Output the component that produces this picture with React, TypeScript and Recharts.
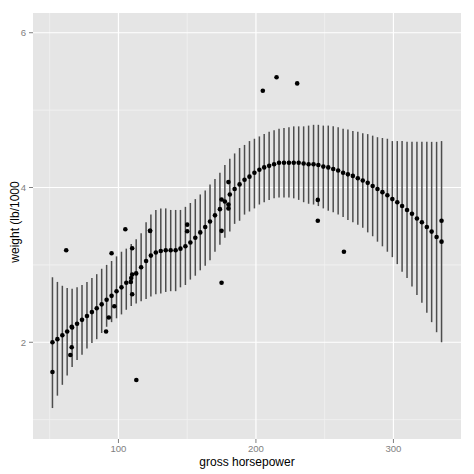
import {
  ScatterChart,
  Scatter,
  XAxis,
  YAxis,
  CartesianGrid,
  ReferenceLine,
  ErrorBar,
} from "recharts";

// mtcars: gross horsepower vs weight
const carHp = [
  110, 110, 93, 110, 175, 105, 245, 62, 95, 123, 123, 180, 180, 180, 205, 215,
  230, 66, 52, 65, 97, 150, 150, 245, 175, 66, 91, 113, 264, 175, 335, 109,
];
const carWt = [
  2.62, 2.875, 2.32, 3.215, 3.44, 3.46, 3.57, 3.19, 3.15, 3.44, 3.44, 4.07,
  3.73, 3.78, 5.25, 5.424, 5.345, 2.2, 1.615, 1.835, 2.465, 3.52, 3.435, 3.84,
  3.845, 1.935, 2.14, 1.513, 3.17, 2.77, 3.57, 2.78,
];

// smoother grid
const smoothHp = [
  52.0, 55.6, 59.2, 62.7, 66.3, 69.9, 73.5, 77.1, 80.7, 84.2, 87.8, 91.4, 95.0,
  98.6, 102.2, 105.7, 109.3, 112.9, 116.5, 120.1, 123.6, 127.2, 130.8, 134.4,
  138.0, 141.6, 145.1, 148.7, 152.3, 155.9, 159.5, 163.1, 166.6, 170.2, 173.8,
  177.4, 181.0, 184.5, 188.1, 191.7, 195.3, 198.9, 202.5, 206.0, 209.6, 213.2,
  216.8, 220.4, 224.0, 227.5, 231.1, 234.7, 238.3, 241.9, 245.4, 249.0, 252.6,
  256.2, 259.8, 263.4, 266.9, 270.5, 274.1, 277.7, 281.3, 284.9, 288.4, 292.0,
  295.6, 299.2, 302.8, 306.3, 309.9, 313.5, 317.1, 320.7, 324.3, 327.8, 331.4,
  335.0,
];
const smoothFit = [
  2.0, 2.04, 2.09, 2.14, 2.19, 2.24, 2.29, 2.34, 2.39, 2.44, 2.49, 2.55, 2.6,
  2.66, 2.71, 2.77, 2.83, 2.89, 2.97, 3.05, 3.12, 3.16, 3.18, 3.19, 3.19, 3.19,
  3.21, 3.24, 3.29, 3.35, 3.42, 3.49, 3.56, 3.64, 3.72, 3.82, 3.91, 3.98, 4.04,
  4.1, 4.14, 4.19, 4.23, 4.26, 4.28, 4.3, 4.32, 4.32, 4.32, 4.32, 4.32, 4.31,
  4.3, 4.3, 4.29, 4.27, 4.26, 4.24, 4.22, 4.19, 4.17, 4.15, 4.12, 4.09, 4.06,
  4.02, 3.98, 3.94, 3.9, 3.85, 3.81, 3.76, 3.71, 3.66, 3.6, 3.55, 3.49, 3.43,
  3.36, 3.3,
];
const smoothHigh = [
  2.84, 2.78, 2.73, 2.7, 2.69, 2.71, 2.74, 2.78, 2.83, 2.88, 2.95, 3.0, 3.05,
  3.11, 3.17, 3.21, 3.27, 3.33, 3.41, 3.55, 3.65, 3.71, 3.73, 3.73, 3.71, 3.71,
  3.71, 3.75, 3.8, 3.85, 3.91, 3.96, 4.04, 4.11, 4.19, 4.29, 4.37, 4.44, 4.51,
  4.55, 4.6, 4.63, 4.66, 4.69, 4.72, 4.74, 4.76, 4.77, 4.78, 4.79, 4.79, 4.79,
  4.8, 4.81, 4.81, 4.8, 4.8, 4.79, 4.78, 4.76, 4.75, 4.73, 4.72, 4.7, 4.69,
  4.67, 4.65, 4.64, 4.63, 4.6, 4.6, 4.6, 4.59, 4.59, 4.59, 4.59, 4.59, 4.59,
  4.59, 4.6,
];
const smoothLow = [
  1.15, 1.31, 1.45, 1.57, 1.68, 1.77, 1.84, 1.92, 1.99, 2.04, 2.12, 2.2, 2.26,
  2.31, 2.36, 2.42, 2.47, 2.5, 2.53, 2.56, 2.59, 2.62, 2.63, 2.65, 2.66, 2.66,
  2.71, 2.74, 2.81, 2.86, 2.93, 2.99, 3.06, 3.17, 3.26, 3.35, 3.43, 3.53, 3.57,
  3.65, 3.69, 3.73, 3.78, 3.81, 3.84, 3.86, 3.87, 3.87, 3.87, 3.86, 3.84, 3.81,
  3.79, 3.78, 3.76, 3.73, 3.7, 3.68, 3.65, 3.62, 3.58, 3.55, 3.52, 3.48, 3.42,
  3.37, 3.3, 3.24, 3.17, 3.1, 3.01, 2.91, 2.83, 2.72, 2.61, 2.51, 2.38, 2.26,
  2.13, 2.0,
];

const xTicks = [100, 200, 300];
const yTicks = [2, 4, 6];
const xMinor = [50, 150, 250];
const yMinor = [1, 3, 5];

const carData = carHp.map((hp, i) => ({ x: hp, y: carWt[i] }));
const smoothData = smoothHp.map((hp, i) => ({
  x: hp,
  y: smoothFit[i],
  err: [smoothFit[i] - smoothLow[i], smoothHigh[i] - smoothFit[i]],
}));

const dot = (p: any) => <circle cx={p.cx} cy={p.cy} r={2.3} fill="#000" />;

const tickStyle = { fill: "#7f7f7f", fontSize: 9.6 };

const YTitle = ({ viewBox }: any) => {
  const cx = viewBox.x + 15;
  const cy = viewBox.y + viewBox.height / 2 - 4;
  return (
    <text
      x={cx}
      y={cy}
      transform={`rotate(-90, ${cx}, ${cy})`}
      textAnchor="middle"
      dominantBaseline="central"
      fontSize={12}
      fill="#000"
    >
      weight (lb/1000
    </text>
  );
};

export default function App() {
  return (
    <div
      style={{
        position: "absolute",
        left: 0,
        top: 0,
        width: 474,
        height: 474,
        background: "#fff",
        fontFamily: "'Liberation Sans', Arial, sans-serif",
      }}
    >
      <ScatterChart
        width={474}
        height={474}
        margin={{ top: 13, right: 13, bottom: 0, left: 0 }}
      >
        <CartesianGrid
          fill="#e5e5e5"
          fillOpacity={1}
          horizontal={false}
          vertical={false}
        />
        {xMinor.map((v) => (
          <ReferenceLine key={"xm" + v} x={v} stroke="#f2f2f2" strokeWidth={0.8} />
        ))}
        {yMinor.map((v) => (
          <ReferenceLine key={"ym" + v} y={v} stroke="#f2f2f2" strokeWidth={0.8} />
        ))}
        {xTicks.map((v) => (
          <ReferenceLine key={"xM" + v} x={v} stroke="#ffffff" strokeWidth={1.2} />
        ))}
        {yTicks.map((v) => (
          <ReferenceLine key={"yM" + v} y={v} stroke="#ffffff" strokeWidth={1.2} />
        ))}
        <XAxis
          type="number"
          dataKey="x"
          domain={[37.85, 349.15]}
          ticks={xTicks}
          allowDataOverflow
          height={35}
          axisLine={false}
          tickLine={{ stroke: "#7f7f7f" }}
          tickSize={4}
          tickMargin={2}
          tick={tickStyle}
          label={{
            value: "gross horsepower",
            position: "insideBottom",
            offset: 8,
            fill: "#000",
            fontSize: 12,
          }}
        />
        <YAxis
          type="number"
          dataKey="y"
          domain={[0.75, 6.255]}
          ticks={yTicks}
          allowDataOverflow
          width={33}
          axisLine={false}
          tickLine={{ stroke: "#7f7f7f" }}
          tickSize={4}
          tickMargin={3}
          tick={tickStyle}
          label={<YTitle />}
        />
        <Scatter data={carData} shape={dot} isAnimationActive={false} />
        <Scatter data={smoothData} shape={dot} isAnimationActive={false}>
          <ErrorBar
            dataKey="err"
            direction="y"
            width={0}
            stroke="#4d4d4d"
            strokeWidth={1.5}
          />
        </Scatter>
      </ScatterChart>
    </div>
  );
}
